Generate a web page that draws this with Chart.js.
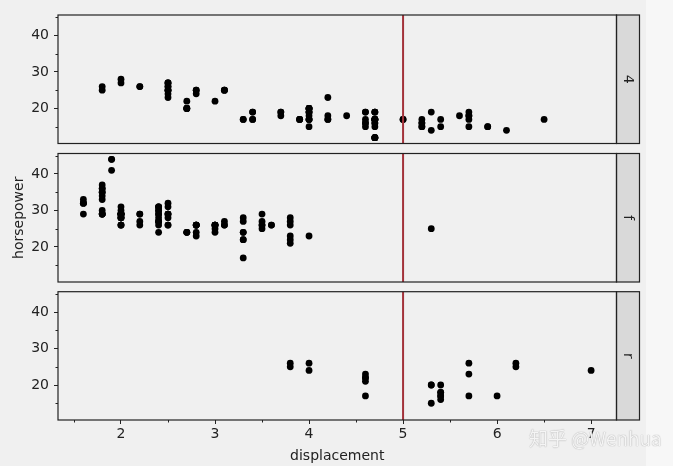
<!DOCTYPE html>
<html lang="en">
<head>
<meta charset="UTF-8" />
<title>hwy vs displ by drv</title>
<style>
  html, body { margin: 0; padding: 0; background: #f7f7f7; }
  #fig {
    position: relative;
    width: 673px;
    height: 466px;
    background: linear-gradient(to right, #f0f0f0 0, #f0f0f0 646px, #f7f7f7 646px);
    overflow: hidden;
  }
  canvas { position: absolute; left: 0; }
  .mark {
    position: absolute;
    left: 529px;
    top: 424px;
    white-space: nowrap;
    font: 19px "Noto Sans CJK SC", "DejaVu Sans", sans-serif;
    color: rgba(255, 255, 255, 0.9);
    text-shadow: 0 0 1px rgba(120, 120, 120, 0.9);
  }
</style>
</head>
<body>
<div id="fig">
  <canvas id="pan4" width="673" height="148" style="top:0px"></canvas>
  <canvas id="panF" width="673" height="139" style="top:148px"></canvas>
  <canvas id="panR" width="673" height="179" style="top:287px"></canvas>
  <div class="mark">知乎 @Wenhua</div>
</div>
<script src="https://cdn.jsdelivr.net/npm/chart.js@4.4.2/dist/chart.umd.min.js"></script>
<script>
// displacement / highway values, one pair of arrays per drive type
const displ4 = [1.8, 1.8, 2.0, 2.0, 2.8, 2.8, 3.1, 3.1, 2.8, 3.1, 4.2, 5.3, 5.3, 5.7, 6.5,
  3.7, 3.7, 3.9, 3.9, 4.7, 4.7, 4.7, 5.2, 5.2, 3.9, 4.7, 4.7, 4.7, 5.2, 5.7, 5.9,
  4.7, 4.7, 4.7, 4.7, 4.7, 4.7, 5.2, 5.2, 5.7, 5.9, 4.0, 4.0, 4.0, 4.0, 4.6, 5.0,
  4.2, 4.2, 4.6, 4.6, 4.6, 5.4, 5.4, 3.0, 3.7, 4.0, 4.7, 4.7, 4.7, 5.7, 6.1,
  4.0, 4.2, 4.4, 4.6, 4.0, 4.0, 4.6, 5.0, 3.3, 3.3, 4.0, 5.6,
  2.5, 2.5, 2.5, 2.5, 2.5, 2.5, 2.2, 2.2, 2.5, 2.5, 2.5, 2.5,
  2.7, 2.7, 3.4, 3.4, 4.0, 4.7, 2.7, 2.7, 2.7, 3.4, 3.4, 4.0, 4.0, 4.7, 5.7];
const hwy4 = [26, 25, 28, 27, 25, 25, 25, 25, 24, 25, 23, 19, 14, 15, 17,
  19, 18, 17, 17, 19, 19, 12, 17, 15, 17, 17, 12, 17, 16, 18, 15,
  16, 12, 17, 17, 16, 12, 15, 16, 17, 15, 17, 19, 17, 19, 19, 17,
  17, 17, 16, 16, 17, 15, 17, 22, 19, 20, 17, 12, 19, 19, 14,
  15, 18, 18, 15, 17, 19, 19, 17, 17, 17, 20, 18,
  25, 24, 27, 25, 26, 23, 26, 26, 27, 25, 27, 26,
  20, 20, 19, 17, 20, 17, 20, 20, 22, 17, 19, 18, 20, 15, 18];

const displF = [1.8, 1.8, 2.0, 2.0, 2.8, 2.8, 3.1, 2.4, 2.4, 3.1, 3.5, 3.6,
  2.4, 3.0, 3.3, 3.3, 3.3, 3.3, 3.3, 3.8, 3.8, 3.8, 4.0,
  1.6, 1.6, 1.6, 1.6, 1.6, 1.8, 1.8, 1.8, 2.0,
  2.4, 2.4, 2.4, 2.4, 2.5, 2.5, 3.3, 2.0, 2.0, 2.0, 2.7, 2.7, 2.7,
  2.4, 2.4, 2.5, 2.5, 3.5, 3.5, 3.0, 3.0, 3.5, 3.1, 3.8, 3.8, 3.8, 5.3,
  2.2, 2.2, 2.4, 2.4, 3.0, 3.0, 3.5, 2.2, 2.2, 2.4, 2.4, 3.0, 3.0, 3.3,
  1.8, 1.8, 1.8, 1.8, 1.8, 2.0, 2.0, 2.0, 2.0, 2.8,
  1.9, 2.0, 2.0, 2.0, 2.0, 2.5, 2.5, 2.8, 2.8, 1.9, 1.9, 2.0, 2.0, 2.5, 2.5,
  1.8, 1.8, 2.0, 2.0, 2.8, 2.8, 3.6];
const hwyF = [29, 29, 31, 30, 26, 26, 27, 27, 30, 26, 29, 26,
  24, 24, 22, 22, 24, 24, 17, 22, 21, 23, 23,
  33, 32, 32, 29, 32, 34, 36, 36, 29,
  26, 27, 30, 31, 26, 26, 28, 26, 29, 28, 24, 24, 24,
  27, 29, 31, 32, 27, 26, 26, 25, 25, 26, 26, 27, 28, 25,
  26, 29, 28, 29, 26, 26, 26, 27, 29, 31, 31, 26, 26, 27,
  30, 33, 35, 37, 35, 29, 29, 28, 29, 26,
  44, 29, 26, 28, 29, 29, 29, 23, 24, 44, 41, 29, 26, 28, 29,
  29, 29, 28, 29, 26, 26, 26];

const displR = [5.3, 5.3, 5.3, 5.7, 6.0, 5.7, 5.7, 6.2, 6.2, 7.0, 4.6, 5.4, 5.4,
  3.8, 3.8, 4.0, 4.0, 4.6, 4.6, 4.6, 4.6, 5.4, 5.4, 5.4, 5.4];
const hwyR = [20, 15, 20, 17, 17, 26, 23, 26, 25, 24, 17, 17, 18,
  26, 25, 26, 24, 21, 22, 23, 22, 20, 17, 16, 18];

const xTicks = [2, 3, 4, 5, 6, 7];
const xMinor = [1.5, 2.5, 3.5, 4.5, 5.5, 6.5];
const yTicks = [20, 30, 40];
const yMinor = [15, 25, 35, 45];
const xRange = [1.33, 7.27];
const yRange = [10.4, 45.6];
const cutLine = 5;

const font = { family: "DejaVu Sans, sans-serif", size: 14 };
const ink = "#222222";

// frame, facet strip and minor ticks
const panelDecor = {
  id: "panelDecor",
  afterDraw(chart, args, opts) {
    const { ctx, chartArea: a, scales } = chart;
    ctx.save();
    // strip on the right
    ctx.fillStyle = "#d9d9d9";
    ctx.fillRect(a.right, a.top, 23, a.bottom - a.top);
    ctx.strokeStyle = ink;
    ctx.lineWidth = 1.2;
    ctx.strokeRect(a.right, a.top, 23, a.bottom - a.top);
    ctx.strokeRect(a.left, a.top, a.right - a.left, a.bottom - a.top);
    ctx.translate(a.right + 11.5, (a.top + a.bottom) / 2);
    ctx.rotate(Math.PI / 2);
    ctx.fillStyle = ink;
    ctx.font = "14px DejaVu Sans, sans-serif";
    ctx.textAlign = "center";
    ctx.textBaseline = "middle";
    ctx.fillText(opts.label, 0, 0);
    ctx.restore();

    ctx.save();
    ctx.strokeStyle = ink;
    ctx.lineWidth = 1;
    for (const v of yMinor) {
      const py = Math.round(scales.y.getPixelForValue(v)) + 0.5;
      ctx.beginPath();
      ctx.moveTo(a.left - 2.5, py);
      ctx.lineTo(a.left, py);
      ctx.stroke();
    }
    if (opts.bottom) {
      for (const v of xMinor) {
        const px = Math.round(scales.x.getPixelForValue(v)) + 0.5;
        ctx.beginPath();
        ctx.moveTo(px, a.bottom);
        ctx.lineTo(px, a.bottom + 2.5);
        ctx.stroke();
      }
    }
    ctx.restore();
  },
};

function makePanel(id, xs, ys, label, pad, bottom, showTitle) {
  const points = xs.map((x, i) => ({ x, y: ys[i] }));
  return new Chart(document.getElementById(id), {
    type: "scatter",
    data: {
      datasets: [
        {
          data: [{ x: cutLine, y: yRange[0] }, { x: cutLine, y: yRange[1] }],
          showLine: true,
          borderColor: "#a3323a",
          borderWidth: 2,
          pointRadius: 0,
        },
        {
          data: points,
          pointRadius: 3.4,
          pointBackgroundColor: "#000000",
          pointBorderWidth: 0,
        },
      ],
    },
    options: {
      responsive: false,
      animation: false,
      events: [],
      layout: { padding: pad },
      plugins: {
        legend: { display: false },
        tooltip: { enabled: false },
        panelDecor: { label, bottom },
      },
      scales: {
        x: {
          type: "linear",
          display: bottom,
          min: xRange[0],
          max: xRange[1],
          afterBuildTicks: (s) => { s.ticks = xTicks.map((v) => ({ value: v })); },
          afterFit: (s) => {
            s.height = bottom ? 46 : 0;
            s.paddingLeft = 0;
            s.paddingRight = 0;
          },
          grid: { drawOnChartArea: false, drawTicks: true, tickLength: 4, tickColor: ink },
          border: { display: false },
          ticks: { color: ink, font, padding: 2, maxRotation: 0 },
          title: { display: true, text: "displacement", color: ink, font, padding: { top: 0, bottom: 1 } },
        },
        y: {
          type: "linear",
          min: yRange[0],
          max: yRange[1],
          afterBuildTicks: (s) => { s.ticks = yTicks.map((v) => ({ value: v })); },
          afterFit: (s) => {
            s.width = 58;
            s.paddingTop = 0;
            s.paddingBottom = 0;
          },
          grid: { drawOnChartArea: false, drawTicks: true, tickLength: 4, tickColor: ink },
          border: { display: false },
          ticks: { color: ink, font, padding: 5 },
          title: { display: showTitle, text: "horsepower", color: ink, font, padding: { top: 11, bottom: 0 } },
        },
      },
    },
    plugins: [panelDecor],
  });
}

makePanel("pan4", displ4, hwy4, "4", { top: 15, bottom: 4.5, left: 0, right: 56.5 }, false, false);
makePanel("panF", displF, hwyF, "f", { top: 5.5, bottom: 5, left: 0, right: 56.5 }, false, true);
makePanel("panR", displR, hwyR, "r", { top: 4.7, bottom: 0, left: 0, right: 56.5 }, true, false);
</script>
</body>
</html>
